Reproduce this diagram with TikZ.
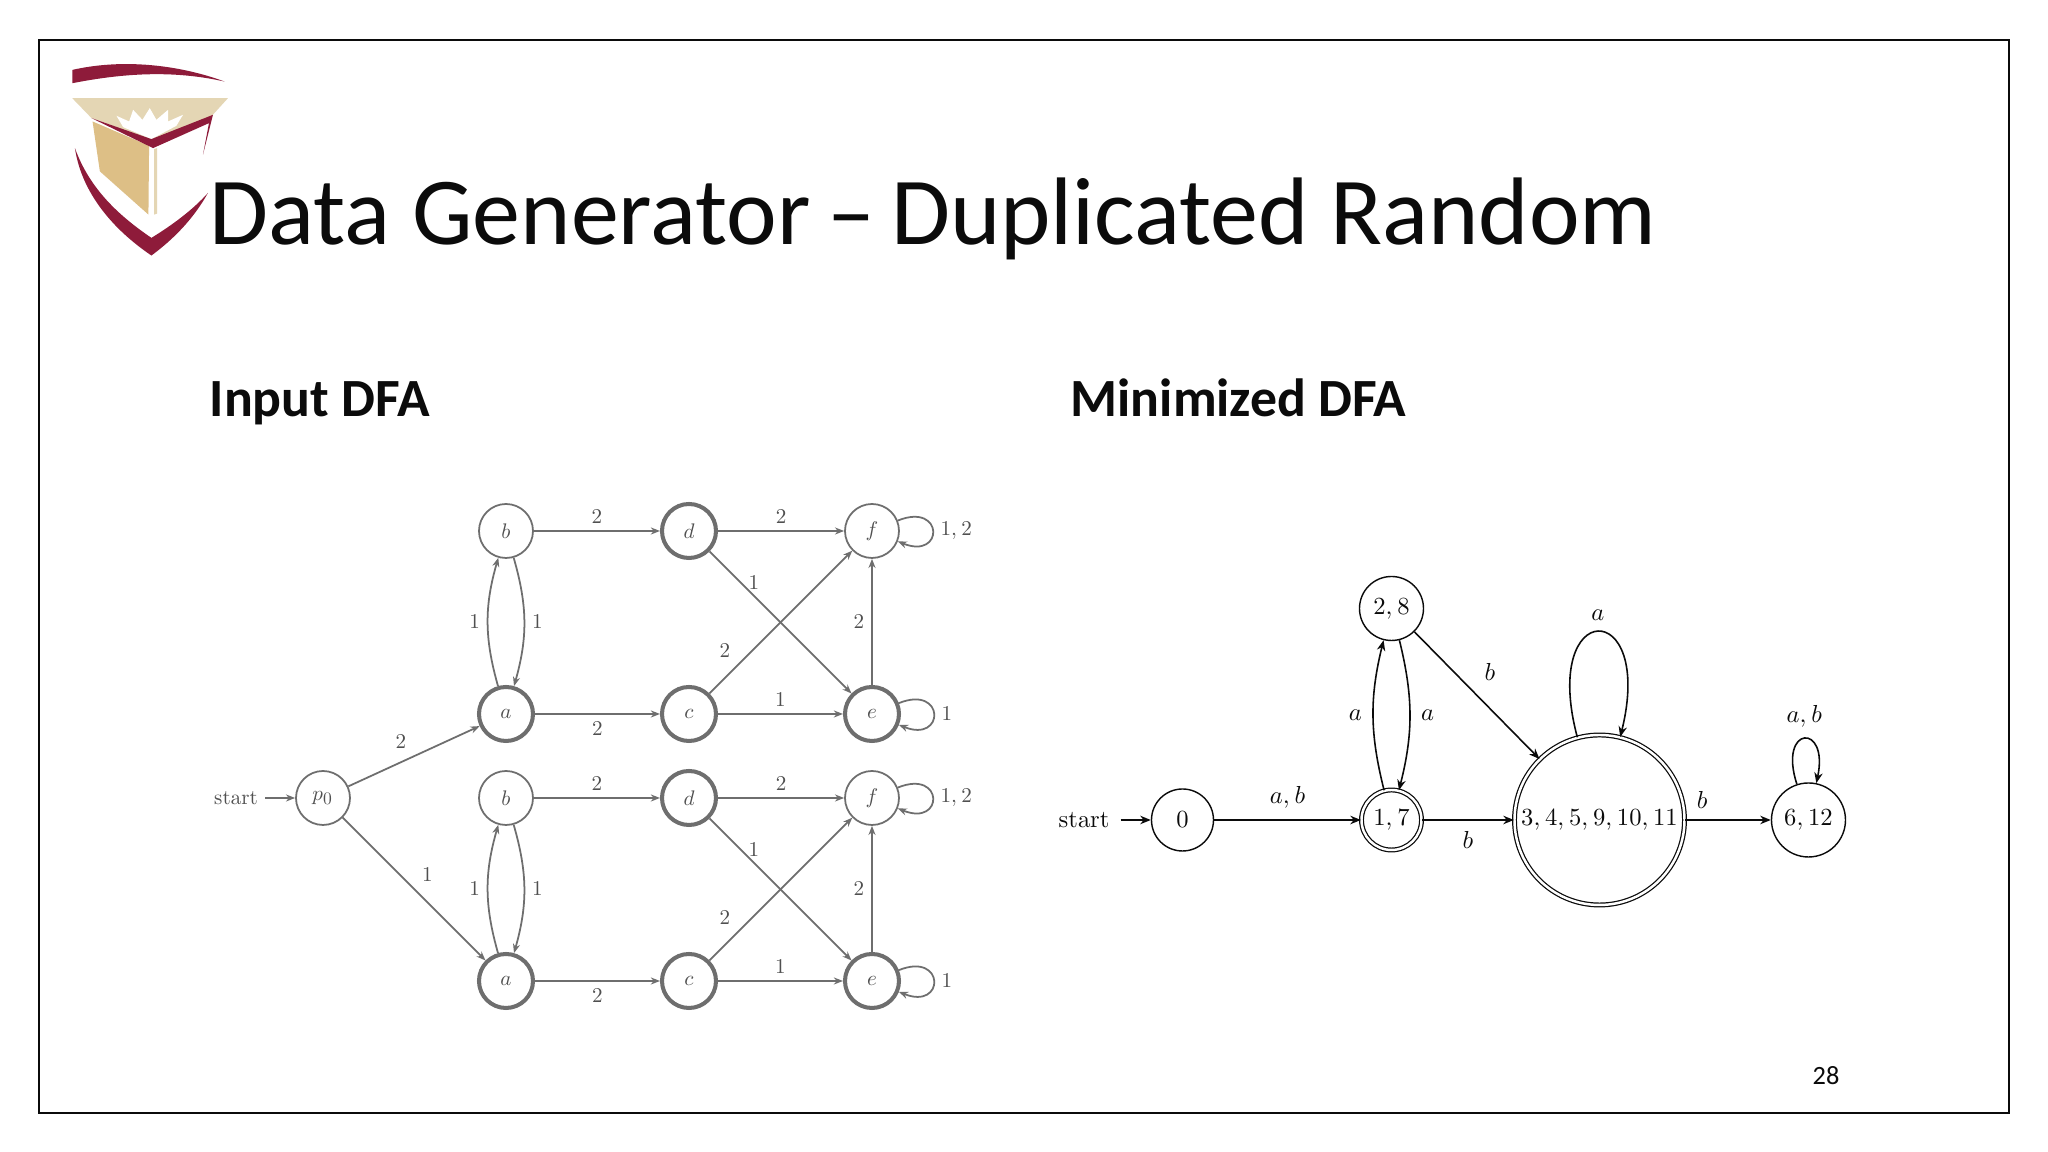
\documentclass[tikz,border=0pt]{standalone}
\usepackage[no-math]{fontspec}
\newfontfamily\slidefont{Carlito}
\DeclareFontShape{OML}{cmm}{m}{it}{<->cmmi10}{\skewchar\font=127}
\DeclareFontShape{OT1}{cmr}{m}{n}{<->cmr10}{}
\usepackage{xcolor}
\definecolor{crimson}{HTML}{8E1B3A}
\definecolor{tanlight}{HTML}{E4D6B4}
\definecolor{tandark}{HTML}{DDBF86}
\definecolor{ink}{HTML}{0B0B0B}
\definecolor{ink2}{HTML}{505050}
\definecolor{ink3}{HTML}{6E6E6E}
\usetikzlibrary{positioning,arrows.meta}

\begin{document}
\begin{tikzpicture}[on grid,
  st/.style={draw=ink3,circle,inner sep=0pt,minimum size=0.54cm,line width=0.5pt,text=ink2,
    font=\fontsize{6}{7}\selectfont},
  acc/.style={st,line width=1.15pt},
  lab/.style={font=\fontsize{6}{7}\selectfont,text=ink2,inner sep=2pt},
  arr/.style={-{Stealth[length=2.6pt,width=2pt]},line width=0.5pt,color=ink3},
  mst/.style={draw=ink,circle,inner sep=0pt,line width=0.4pt,text=ink,font=\fontsize{7}{8}\selectfont},
  macc/.style={mst,double,double distance=0.7pt,line width=0.35pt},
  mlab/.style={font=\fontsize{7}{8}\selectfont,text=ink,inner sep=3pt},
  marr/.style={-{Stealth[length=3pt,width=2.4pt]},line width=0.45pt,color=ink},
  head/.style={font=\slidefont\bfseries\fontsize{15.3}{18}\selectfont,text=ink,anchor=base west,inner sep=0pt}]
\useasboundingbox (0,0) rectangle (20.48,11.52);
\fill[white] (0,0) rectangle (20.48,11.52);
\draw[ink,line width=0.8pt] (0.39,0.39) rectangle (20.09,11.12);

% logo
\begin{scope}[shift={(0.4,11.12)},x=0.003333cm,y=-0.003333cm]
\fill[crimson] (97,90) .. controls (250,55) and (420,75) .. (555,125)
  .. controls (400,90) and (250,100) .. (97,130) -- cycle;
\fill[tanlight] (97,175) -- (565,175) -- (515,230) -- (335,300) -- (155,235) -- cycle;
\fill[white] (230,228) -- (268,245) -- (280,210) -- (308,240) -- (330,205) -- (350,240)
  -- (385,210) -- (385,245) -- (430,225) -- (410,258) -- (335,298) -- (250,262) -- cycle;
\fill[tandark] (158,245) -- (328,318) -- (326,525) -- (180,395) -- cycle;
\fill[crimson] (155,235) -- (335,298) -- (520,225) -- (490,345) -- (508,250) -- (340,325) -- cycle;
\fill[tanlight] (343,328) -- (352,325) -- (352,522) -- (343,525) -- cycle;
\fill[crimson] (105,325) .. controls (150,450) and (240,530) .. (335,595)
  .. controls (400,555) and (460,510) .. (505,460)
  .. controls (460,540) and (400,600) .. (335,648)
  .. controls (220,570) and (125,460) .. (105,325) -- cycle;
\end{scope}

\node[font=\slidefont\fontsize{27.3}{33}\selectfont,text=ink,anchor=west,inner sep=0pt] (title) at (2.09,9.335) {Data Generator\hspace{.17em}–\hspace{.17em}Duplicated Random};
\node[head] (inhead) at (2.09,7.35) {Input DFA};
\node[head] (minhead) at (10.70,7.35) {Minimized DFA};
\node[font=\slidefont\fontsize{7.5}{9}\selectfont,text=ink] (pagenum) at (18.26,0.76) {28};

% input dfa
\node[st] (p) at (3.23,3.54) {$p_0$};
\node[lab,left=0.87cm of p] (start1) {$\mathrm{start}$};
\node[st,right=1.83cm of p] (b2) {$b$};
\node[acc,above=0.84cm of b2] (a1) {$a$};
\node[st,above=1.83cm of a1] (b1) {$b$};
\node[acc,below=1.83cm of b2] (a2) {$a$};
\node[acc,right=1.83cm of b1] (d1) {$d$};
\node[st,right=1.83cm of d1] (f1) {$f$};
\node[acc,right=1.83cm of a1] (c1) {$c$};
\node[acc,right=1.83cm of c1] (e1) {$e$};
\node[acc,right=1.83cm of b2] (d2) {$d$};
\node[st,right=1.83cm of d2] (f2) {$f$};
\node[acc,right=1.83cm of a2] (c2) {$c$};
\node[acc,right=1.83cm of c2] (e2) {$e$};
\draw[arr] (start1) -- (p);
\draw[arr] (p) -- node[above left,lab]{$2$} (a1);
\draw[arr] (p) -- node[above right,lab]{$1$} (a2);
\draw[arr] (a1) to[bend left=16] node[left,lab]{$1$} (b1);
\draw[arr] (b1) to[bend left=16] node[right,lab]{$1$} (a1);
\draw[arr] (b1) -- node[above,lab]{$2$} (d1);
\draw[arr] (a1) -- node[below,lab]{$2$} (c1);
\draw[arr] (d1) -- node[above,lab]{$2$} (f1);
\draw[arr] (c1) -- node[above,lab]{$1$} (e1);
\draw[arr] (d1) -- node[pos=.22,right,lab]{$1$} (e1);
\draw[arr] (c1) -- node[pos=.2,above left,lab]{$2$} (f1);
\draw[arr] (e1) -- node[left,lab]{$2$} (f1);
\draw[arr] (f1) to[out=22,in=-22,distance=0.5cm] node[right,lab]{$1,2$} (f1);
\draw[arr] (e1) to[out=22,in=-22,distance=0.5cm] node[right,lab]{$1$} (e1);
\draw[arr] (a2) to[bend left=16] node[left,lab]{$1$} (b2);
\draw[arr] (b2) to[bend left=16] node[right,lab]{$1$} (a2);
\draw[arr] (b2) -- node[above,lab]{$2$} (d2);
\draw[arr] (a2) -- node[below,lab]{$2$} (c2);
\draw[arr] (d2) -- node[above,lab]{$2$} (f2);
\draw[arr] (c2) -- node[above,lab]{$1$} (e2);
\draw[arr] (d2) -- node[pos=.22,right,lab]{$1$} (e2);
\draw[arr] (c2) -- node[pos=.2,above left,lab]{$2$} (f2);
\draw[arr] (e2) -- node[left,lab]{$2$} (f2);
\draw[arr] (f2) to[out=22,in=-22,distance=0.5cm] node[right,lab]{$1,2$} (f2);
\draw[arr] (e2) to[out=22,in=-22,distance=0.5cm] node[right,lab]{$1$} (e2);

% minimized dfa
\node[mst,minimum size=0.62cm] (q0) at (11.825,3.32) {$0$};
\node[mlab,left=0.985cm of q0] (start2) {$\mathrm{start}$};
\node[macc,minimum size=0.60cm,right=2.09cm of q0] (q17) {$1,7$};
\node[mst,minimum size=0.64cm,above=2.115cm of q17] (q28) {$2,8$};
\node[macc,minimum size=1.70cm,right=2.08cm of q17] (q3) {$3,4,5,9,10,11$};
\node[mst,minimum size=0.74cm,right=2.09cm of q3] (q6) {$6,12$};
\draw[marr] (start2) -- (q0);
\draw[marr] (q0) -- node[above,mlab]{$a,b$} (q17);
\draw[marr] (q17) to[bend left=14] node[left,mlab]{$a$} (q28);
\draw[marr] (q28) to[bend left=14] node[right,mlab]{$a$} (q17);
\draw[marr] (q17) -- node[below,mlab]{$b$} (q3);
\draw[marr] (q28) -- node[pos=.47,above right,mlab]{$b$} (q3);
\draw[marr] (q3) to[out=105,in=76,distance=1.45cm] node[above,mlab]{$a$} (q3);
\draw[marr] (q3) -- node[pos=.2,above,mlab]{$b$} (q6);
\draw[marr] (q6) to[out=108,in=78,distance=0.62cm] node[above,mlab]{$a,b$} (q6);
\end{tikzpicture}
\end{document}
